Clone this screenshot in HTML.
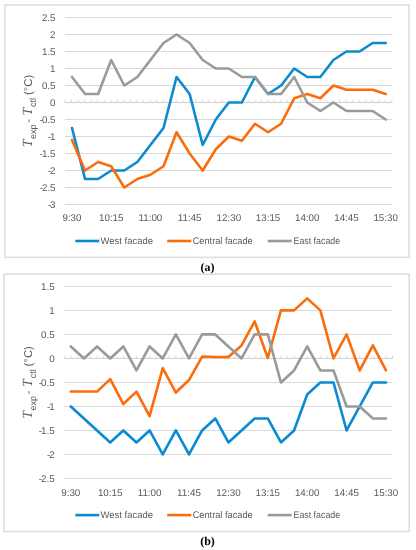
<!DOCTYPE html>
<html><head><meta charset="utf-8"><title>Chart</title>
<style>
html,body{margin:0;padding:0;background:#fff;}
body{width:416px;height:550px;overflow:hidden;}
svg{display:block;text-rendering:geometricPrecision;filter:blur(0.3px);}
.ax{font-family:"Liberation Sans", Arial, sans-serif;font-size:9.8px;fill:#595959;}
.lg{font-family:"Liberation Sans", Arial, sans-serif;font-size:9.6px;fill:#595959;}
.tt{font-family:"Liberation Sans", Arial, sans-serif;font-size:11px;fill:#595959;}
.cap{font-family:"Liberation Serif", "Times New Roman", serif;font-weight:bold;font-size:12px;fill:#000;}
</style></head><body>
<svg width="416" height="550" viewBox="0 0 416 550">
<rect width="416" height="550" fill="#fff"/>
<rect x="5.0" y="5.0" width="404.00" height="252.40" fill="none" stroke="#dedede" stroke-width="1.6"/>
<line x1="65.0" x2="392.0" y1="17.50" y2="17.50" stroke="#d9d9d9" stroke-width="1"/>
<line x1="65.0" x2="392.0" y1="34.50" y2="34.50" stroke="#d9d9d9" stroke-width="1"/>
<line x1="65.0" x2="392.0" y1="51.50" y2="51.50" stroke="#d9d9d9" stroke-width="1"/>
<line x1="65.0" x2="392.0" y1="68.50" y2="68.50" stroke="#d9d9d9" stroke-width="1"/>
<line x1="65.0" x2="392.0" y1="85.50" y2="85.50" stroke="#d9d9d9" stroke-width="1"/>
<line x1="65.0" x2="392.0" y1="119.50" y2="119.50" stroke="#d9d9d9" stroke-width="1"/>
<line x1="65.0" x2="392.0" y1="136.50" y2="136.50" stroke="#d9d9d9" stroke-width="1"/>
<line x1="65.0" x2="392.0" y1="153.50" y2="153.50" stroke="#d9d9d9" stroke-width="1"/>
<line x1="65.0" x2="392.0" y1="170.50" y2="170.50" stroke="#d9d9d9" stroke-width="1"/>
<line x1="65.0" x2="392.0" y1="187.50" y2="187.50" stroke="#d9d9d9" stroke-width="1"/>
<line x1="65.0" x2="392.0" y1="204.50" y2="204.50" stroke="#d9d9d9" stroke-width="1"/>
<line x1="65.0" x2="392.0" y1="102.50" y2="102.50" stroke="#d0d0d0" stroke-width="1"/>
<path d="M65.00 102.50v-2.7 M71.54 102.50v-2.7 M78.08 102.50v-2.7 M84.62 102.50v-2.7 M91.16 102.50v-2.7 M97.70 102.50v-2.7 M104.24 102.50v-2.7 M110.78 102.50v-2.7 M117.32 102.50v-2.7 M123.86 102.50v-2.7 M130.40 102.50v-2.7 M136.94 102.50v-2.7 M143.48 102.50v-2.7 M150.02 102.50v-2.7 M156.56 102.50v-2.7 M163.10 102.50v-2.7 M169.64 102.50v-2.7 M176.18 102.50v-2.7 M182.72 102.50v-2.7 M189.26 102.50v-2.7 M195.80 102.50v-2.7 M202.34 102.50v-2.7 M208.88 102.50v-2.7 M215.42 102.50v-2.7 M221.96 102.50v-2.7 M228.50 102.50v-2.7 M235.04 102.50v-2.7 M241.58 102.50v-2.7 M248.12 102.50v-2.7 M254.66 102.50v-2.7 M261.20 102.50v-2.7 M267.74 102.50v-2.7 M274.28 102.50v-2.7 M280.82 102.50v-2.7 M287.36 102.50v-2.7 M293.90 102.50v-2.7 M300.44 102.50v-2.7 M306.98 102.50v-2.7 M313.52 102.50v-2.7 M320.06 102.50v-2.7 M326.60 102.50v-2.7 M333.14 102.50v-2.7 M339.68 102.50v-2.7 M346.22 102.50v-2.7 M352.76 102.50v-2.7 M359.30 102.50v-2.7 M365.84 102.50v-2.7 M372.38 102.50v-2.7 M378.92 102.50v-2.7 M385.46 102.50v-2.7 M392.00 102.50v-2.7" stroke="#d4d4d4" stroke-width="0.9" fill="none"/>
<text x="55.5" y="21.00" text-anchor="end" class="ax">2.5</text>
<text x="55.5" y="38.00" text-anchor="end" class="ax">2</text>
<text x="55.5" y="55.00" text-anchor="end" class="ax">1.5</text>
<text x="55.5" y="72.00" text-anchor="end" class="ax">1</text>
<text x="55.5" y="89.00" text-anchor="end" class="ax">0.5</text>
<text x="55.5" y="106.00" text-anchor="end" class="ax">0</text>
<text x="55.5" y="123.00" text-anchor="end" class="ax">-<tspan dx="-1.1">0.5</tspan></text>
<text x="55.5" y="140.00" text-anchor="end" class="ax">-<tspan dx="-1.1">1</tspan></text>
<text x="55.5" y="157.00" text-anchor="end" class="ax">-<tspan dx="-1.1">1.5</tspan></text>
<text x="55.5" y="174.00" text-anchor="end" class="ax">-<tspan dx="-1.1">2</tspan></text>
<text x="55.5" y="191.00" text-anchor="end" class="ax">-<tspan dx="-1.1">2.5</tspan></text>
<text x="55.5" y="208.00" text-anchor="end" class="ax">-<tspan dx="-1.1">3</tspan></text>
<text x="72.00" y="221.3" text-anchor="middle" class="ax">9:30</text>
<text x="111.21" y="221.3" text-anchor="middle" class="ax">10:15</text>
<text x="150.43" y="221.3" text-anchor="middle" class="ax">11:00</text>
<text x="189.64" y="221.3" text-anchor="middle" class="ax">11:45</text>
<text x="228.85" y="221.3" text-anchor="middle" class="ax">12:30</text>
<text x="268.06" y="221.3" text-anchor="middle" class="ax">13:15</text>
<text x="307.27" y="221.3" text-anchor="middle" class="ax">14:00</text>
<text x="346.49" y="221.3" text-anchor="middle" class="ax">14:45</text>
<text x="385.70" y="221.3" text-anchor="middle" class="ax">15:30</text>
<polyline points="72.00,128.00 85.07,179.00 98.14,179.00 111.21,170.50 124.28,170.50 137.35,162.00 150.43,145.00 163.50,128.00 176.57,77.00 189.64,94.00 202.71,145.00 215.78,119.50 228.85,102.50 241.92,102.50 254.99,77.00 268.06,94.00 281.13,85.50 294.20,68.50 307.27,77.00 320.35,77.00 333.42,60.00 346.49,51.50 359.56,51.50 372.63,43.00 385.70,43.00" fill="none" stroke="#0a8ad0" stroke-width="2.6" stroke-linejoin="round" stroke-linecap="round"/>
<polyline points="72.00,139.90 85.07,170.50 98.14,162.00 111.21,166.25 124.28,187.50 137.35,179.00 150.43,174.75 163.50,166.25 176.57,132.25 189.64,153.50 202.71,170.50 215.78,149.25 228.85,136.50 241.92,140.75 254.99,123.75 268.06,132.25 281.13,123.75 294.20,98.25 307.27,94.00 320.35,98.25 333.42,85.50 346.49,89.75 359.56,89.75 372.63,89.75 385.70,94.00" fill="none" stroke="#fb6c0c" stroke-width="2.6" stroke-linejoin="round" stroke-linecap="round"/>
<polyline points="72.00,77.00 85.07,94.00 98.14,94.00 111.21,60.00 124.28,85.50 137.35,77.00 150.43,60.00 163.50,43.00 176.57,34.50 189.64,43.00 202.71,60.00 215.78,68.50 228.85,68.50 241.92,77.00 254.99,77.00 268.06,94.00 281.13,94.00 294.20,77.00 307.27,102.50 320.35,111.00 333.42,102.50 346.49,111.00 359.56,111.00 372.63,111.00 385.70,119.50" fill="none" stroke="#9a9a9a" stroke-width="2.6" stroke-linejoin="round" stroke-linecap="round"/>
<line x1="75.3" x2="99.3" y1="241.0" y2="241.0" stroke="#0a8ad0" stroke-width="2.6"/>
<text x="100.6" y="244.10" class="lg" textLength="52.3" lengthAdjust="spacingAndGlyphs">West facade</text>
<line x1="167.2" x2="191.3" y1="241.0" y2="241.0" stroke="#fb6c0c" stroke-width="2.6"/>
<text x="192.7" y="244.10" class="lg" textLength="60.0" lengthAdjust="spacingAndGlyphs">Central facade</text>
<line x1="267.7" x2="291.7" y1="241.0" y2="241.0" stroke="#9a9a9a" stroke-width="2.6"/>
<text x="293.5" y="244.10" class="lg" textLength="46.6" lengthAdjust="spacingAndGlyphs">East facade</text>
<text transform="rotate(-90)" x="-147.30" y="32.40" font-family='"Liberation Serif", "Times New Roman", serif' font-size="14" font-style="italic" fill="#595959">T</text>
<text transform="rotate(-90)" x="-139.00" y="35.80" font-family='"Liberation Sans", Arial, sans-serif' font-size="9.0" fill="#595959">exp</text>
<text transform="rotate(-90)" x="-122.80" y="32.30" font-family='"Liberation Sans", Arial, sans-serif' font-size="11.3" fill="#595959">-</text>
<text transform="rotate(-90)" x="-115.60" y="32.40" font-family='"Liberation Serif", "Times New Roman", serif' font-size="14" font-style="italic" fill="#595959">T</text>
<text transform="rotate(-90)" x="-106.90" y="36.00" font-family='"Liberation Sans", Arial, sans-serif' font-size="9.0" fill="#595959">ctl</text>
<text transform="rotate(-90)" x="-95.00" y="32.30" font-family='"Liberation Sans", Arial, sans-serif' font-size="11.3" fill="#595959">(°C)</text>
<text x="207.5" y="271" text-anchor="middle" class="cap">(a)</text>
<rect x="4.0" y="274.2" width="405.20" height="257.30" fill="none" stroke="#dedede" stroke-width="1.6"/>
<line x1="64.2" x2="392.6" y1="286.40" y2="286.40" stroke="#d9d9d9" stroke-width="1"/>
<line x1="64.2" x2="392.6" y1="310.41" y2="310.41" stroke="#d9d9d9" stroke-width="1"/>
<line x1="64.2" x2="392.6" y1="334.42" y2="334.42" stroke="#d9d9d9" stroke-width="1"/>
<line x1="64.2" x2="392.6" y1="382.45" y2="382.45" stroke="#d9d9d9" stroke-width="1"/>
<line x1="64.2" x2="392.6" y1="406.46" y2="406.46" stroke="#d9d9d9" stroke-width="1"/>
<line x1="64.2" x2="392.6" y1="430.48" y2="430.48" stroke="#d9d9d9" stroke-width="1"/>
<line x1="64.2" x2="392.6" y1="454.49" y2="454.49" stroke="#d9d9d9" stroke-width="1"/>
<line x1="64.2" x2="392.6" y1="478.50" y2="478.50" stroke="#d9d9d9" stroke-width="1"/>
<line x1="64.2" x2="392.6" y1="358.44" y2="358.44" stroke="#d0d0d0" stroke-width="1"/>
<path d="M64.20 358.44v-2.7 M70.77 358.44v-2.7 M77.34 358.44v-2.7 M83.90 358.44v-2.7 M90.47 358.44v-2.7 M97.04 358.44v-2.7 M103.61 358.44v-2.7 M110.18 358.44v-2.7 M116.74 358.44v-2.7 M123.31 358.44v-2.7 M129.88 358.44v-2.7 M136.45 358.44v-2.7 M143.02 358.44v-2.7 M149.58 358.44v-2.7 M156.15 358.44v-2.7 M162.72 358.44v-2.7 M169.29 358.44v-2.7 M175.86 358.44v-2.7 M182.42 358.44v-2.7 M188.99 358.44v-2.7 M195.56 358.44v-2.7 M202.13 358.44v-2.7 M208.70 358.44v-2.7 M215.26 358.44v-2.7 M221.83 358.44v-2.7 M228.40 358.44v-2.7 M234.97 358.44v-2.7 M241.54 358.44v-2.7 M248.10 358.44v-2.7 M254.67 358.44v-2.7 M261.24 358.44v-2.7 M267.81 358.44v-2.7 M274.38 358.44v-2.7 M280.94 358.44v-2.7 M287.51 358.44v-2.7 M294.08 358.44v-2.7 M300.65 358.44v-2.7 M307.22 358.44v-2.7 M313.78 358.44v-2.7 M320.35 358.44v-2.7 M326.92 358.44v-2.7 M333.49 358.44v-2.7 M340.06 358.44v-2.7 M346.62 358.44v-2.7 M353.19 358.44v-2.7 M359.76 358.44v-2.7 M366.33 358.44v-2.7 M372.90 358.44v-2.7 M379.46 358.44v-2.7 M386.03 358.44v-2.7 M392.60 358.44v-2.7" stroke="#d4d4d4" stroke-width="0.9" fill="none"/>
<text x="54.6" y="289.90" text-anchor="end" class="ax">1.5</text>
<text x="54.6" y="313.91" text-anchor="end" class="ax">1</text>
<text x="54.6" y="337.92" text-anchor="end" class="ax">0.5</text>
<text x="54.6" y="361.94" text-anchor="end" class="ax">0</text>
<text x="54.6" y="385.95" text-anchor="end" class="ax">-<tspan dx="-1.1">0.5</tspan></text>
<text x="54.6" y="409.96" text-anchor="end" class="ax">-<tspan dx="-1.1">1</tspan></text>
<text x="54.6" y="433.98" text-anchor="end" class="ax">-<tspan dx="-1.1">1.5</tspan></text>
<text x="54.6" y="457.99" text-anchor="end" class="ax">-<tspan dx="-1.1">2</tspan></text>
<text x="54.6" y="482.00" text-anchor="end" class="ax">-<tspan dx="-1.1">2.5</tspan></text>
<text x="70.80" y="495.6" text-anchor="middle" class="ax">9:30</text>
<text x="110.20" y="495.6" text-anchor="middle" class="ax">10:15</text>
<text x="149.60" y="495.6" text-anchor="middle" class="ax">11:00</text>
<text x="189.00" y="495.6" text-anchor="middle" class="ax">11:45</text>
<text x="228.40" y="495.6" text-anchor="middle" class="ax">12:30</text>
<text x="267.80" y="495.6" text-anchor="middle" class="ax">13:15</text>
<text x="307.20" y="495.6" text-anchor="middle" class="ax">14:00</text>
<text x="346.60" y="495.6" text-anchor="middle" class="ax">14:45</text>
<text x="386.00" y="495.6" text-anchor="middle" class="ax">15:30</text>
<polyline points="70.80,406.46 83.93,418.47 97.07,430.48 110.20,442.48 123.33,430.48 136.47,442.48 149.60,430.48 162.73,454.49 175.87,430.48 189.00,454.49 202.13,430.48 215.27,418.47 228.40,442.48 241.53,430.48 254.67,418.47 267.80,418.47 280.93,442.48 294.07,430.48 307.20,394.46 320.33,382.45 333.47,382.45 346.60,430.48 359.73,406.46 372.87,382.45 386.00,382.45" fill="none" stroke="#0a8ad0" stroke-width="2.6" stroke-linejoin="round" stroke-linecap="round"/>
<polyline points="70.80,391.57 83.93,391.57 97.07,391.57 110.20,379.09 123.33,404.06 136.47,391.57 149.60,416.07 162.73,368.04 175.87,392.54 189.00,380.05 202.13,356.52 215.27,357.00 228.40,357.00 241.53,345.47 254.67,321.46 267.80,357.96 280.93,310.41 294.07,310.41 307.20,298.41 320.33,310.41 333.47,358.44 346.60,334.42 359.73,370.44 372.87,345.47 386.00,370.44" fill="none" stroke="#fb6c0c" stroke-width="2.6" stroke-linejoin="round" stroke-linecap="round"/>
<polyline points="70.80,346.43 83.93,358.44 97.07,346.43 110.20,358.44 123.33,346.43 136.47,370.44 149.60,346.43 162.73,358.44 175.87,334.42 189.00,358.44 202.13,334.42 215.27,334.42 228.40,346.43 241.53,358.44 254.67,334.42 267.80,334.42 280.93,382.45 294.07,370.44 307.20,346.43 320.33,370.44 333.47,370.44 346.60,406.46 359.73,406.46 372.87,418.47 386.00,418.47" fill="none" stroke="#9a9a9a" stroke-width="2.6" stroke-linejoin="round" stroke-linecap="round"/>
<line x1="75.3" x2="99.3" y1="515.1" y2="515.1" stroke="#0a8ad0" stroke-width="2.6"/>
<text x="100.6" y="518.20" class="lg" textLength="52.3" lengthAdjust="spacingAndGlyphs">West facade</text>
<line x1="167.2" x2="191.3" y1="515.1" y2="515.1" stroke="#fb6c0c" stroke-width="2.6"/>
<text x="192.7" y="518.20" class="lg" textLength="60.0" lengthAdjust="spacingAndGlyphs">Central facade</text>
<line x1="267.7" x2="291.7" y1="515.1" y2="515.1" stroke="#9a9a9a" stroke-width="2.6"/>
<text x="293.5" y="518.20" class="lg" textLength="46.6" lengthAdjust="spacingAndGlyphs">East facade</text>
<text transform="rotate(-90)" x="-418.70" y="32.40" font-family='"Liberation Serif", "Times New Roman", serif' font-size="14" font-style="italic" fill="#595959">T</text>
<text transform="rotate(-90)" x="-410.40" y="35.80" font-family='"Liberation Sans", Arial, sans-serif' font-size="9.0" fill="#595959">exp</text>
<text transform="rotate(-90)" x="-394.20" y="32.30" font-family='"Liberation Sans", Arial, sans-serif' font-size="11.3" fill="#595959">-</text>
<text transform="rotate(-90)" x="-387.00" y="32.40" font-family='"Liberation Serif", "Times New Roman", serif' font-size="14" font-style="italic" fill="#595959">T</text>
<text transform="rotate(-90)" x="-378.30" y="36.00" font-family='"Liberation Sans", Arial, sans-serif' font-size="9.0" fill="#595959">ctl</text>
<text transform="rotate(-90)" x="-366.40" y="32.30" font-family='"Liberation Sans", Arial, sans-serif' font-size="11.3" fill="#595959">(°C)</text>
<text x="207.5" y="545" text-anchor="middle" class="cap">(b)</text>
</svg>
</body></html>
